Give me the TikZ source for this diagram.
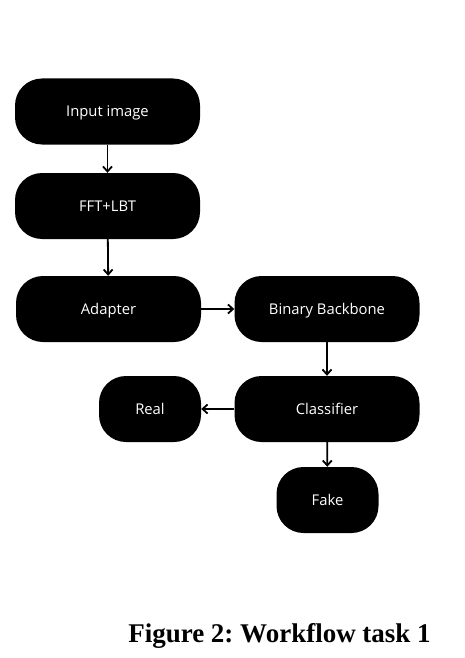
\documentclass[tikz,border=0pt]{standalone}
\usepackage{fontspec}
\setmainfont{Liberation Serif}
\newfontfamily\boxfont{Open Sans}
\usetikzlibrary{arrows.meta}
\frenchspacing

\begin{document}
\begin{tikzpicture}[x=1pt,y=-1pt,>={Straight Barb[length=5pt,width=9pt]},
  stage/.style={fill=black,rounded corners=27pt,minimum width=185pt,minimum height=66pt,
    text=white,font=\boxfont\fontsize{14.8}{17}\selectfont,inner sep=0pt,
    text height=10.6pt,text depth=0pt},
  small/.style={stage,minimum width=102pt},
  flow/.style={->,line width=1.8pt}]
\useasboundingbox (0,0) rectangle (464,658);
% left column
\node[stage] (input) at (107.5,111.5) {Input image};
\node[stage] (fft) at (107.5,206) {FFT+LBT};
\node[stage] (adapter) at (108.5,309) {Adapter};
% right column
\node[stage] (backbone) at (327,309) {Binary Backbone};
\node[stage] (classifier) at (327,409) {Classifier};
\node[small] (real) at (150,409) {Real};
\node[small] (fake) at (327.5,500) {Fake};
\draw[flow] (input) -- (fft);
\draw[flow] (fft) -- (adapter);
\draw[flow] (adapter) -- (backbone);
\draw[flow] (backbone) -- (classifier);
\draw[flow] (classifier) -- (real);
\draw[flow] (classifier) -- (fake);
\node[font=\bfseries\fontsize{27}{29}\selectfont] (caption) at (279.5,636) {Figure 2: Workflow task 1};
\end{tikzpicture}
\end{document}
